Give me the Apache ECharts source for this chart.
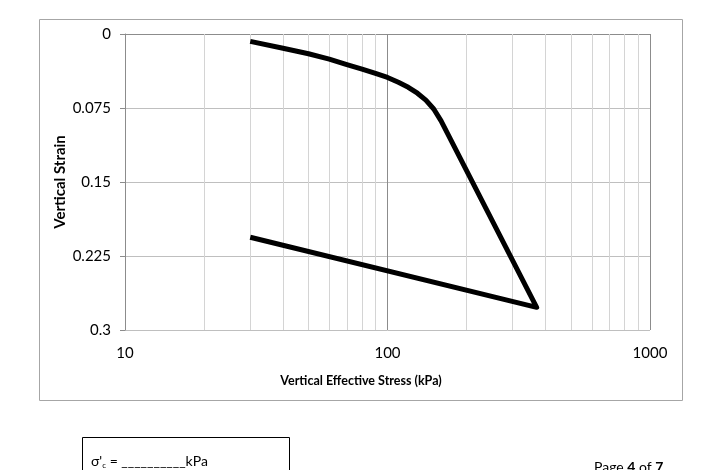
<!DOCTYPE html>
<html>
<head>
<meta charset="utf-8">
<script src="https://cdn.jsdelivr.net/npm/echarts@6/dist/echarts.min.js"></script>
<style>
  html, body { margin: 0; padding: 0; background: #fff; }
  #chart { width: 710px; height: 470px; }
</style>
</head>
<body>
<div id="chart"></div>
<script>
// consolidation curve: vertical effective stress (kPa) vs vertical strain
const stress = [30, 40, 50, 60, 70, 80, 90, 100, 110, 120, 130, 140, 150, 160, 370, 30];
const strain = [0.0075, 0.0145, 0.020, 0.0255, 0.031, 0.0355, 0.040, 0.044, 0.049, 0.054, 0.060, 0.067, 0.076, 0.088, 0.277, 0.206];
const minorTicks = [20, 30, 40, 50, 60, 70, 80, 90, 200, 300, 400, 500, 600, 700, 800, 900];
const yTicks = [0, 0.075, 0.15, 0.225, 0.3];

const chart = echarts.init(document.getElementById('chart'));
const font = 'Lato, "Open Sans", sans-serif';

const option = {
  animation: false,
  backgroundColor: '#fff',
  grid: { left: 125, right: 60, top: 34, bottom: 140 },
  xAxis: {
    type: 'log',
    logBase: 10,
    min: 10,
    max: 1000,
    axisLine: { lineStyle: { color: '#8c8c8c' } },
    axisTick: { show: false },
    axisLabel: { fontFamily: font, fontSize: 15, color: '#000', margin: 16, formatter: v => String(Math.round(v)) },
    splitLine: { show: true, lineStyle: { color: '#8c8c8c', width: 1 } }
  },
  yAxis: {
    type: 'value',
    inverse: true,
    min: 0,
    max: 0.3,
    interval: 0.075,
    axisLine: { show: true, lineStyle: { color: '#8c8c8c' } },
    axisTick: { show: true, length: 5, lineStyle: { color: '#8c8c8c' } },
    axisLabel: {
      fontFamily: font, fontSize: 15, color: '#000', margin: 14,
      formatter: v => String(yTicks.find(t => Math.abs(t - v) < 1e-9) ?? v)
    },
    splitLine: { show: true, lineStyle: { color: '#bfbfbf' } }
  },
  series: [
    {
      type: 'line',
      data: [],
      z: 1,
      markLine: {
        silent: true,
        symbol: 'none',
        label: { show: false },
        lineStyle: { color: '#d4d4d4', type: 'solid', width: 1 },
        data: minorTicks.map(v => ({ xAxis: v }))
      }
    },
    {
      type: 'line',
      zlevel: 1,
      showSymbol: false,
      smooth: false,
      lineStyle: { color: '#000', width: 5, join: 'round', cap: 'butt' },
      data: stress.map((s, i) => [s, strain[i]])
    }
  ],
  graphic: [
    {
      type: 'rect',
      shape: { x: 39.5, y: 19.5, width: 643, height: 381 },
      style: { fill: null, stroke: '#a6a6a6', lineWidth: 1 },
      z: -1
    },
    {
      type: 'text',
      x: 60,
      y: 182,
      rotation: Math.PI / 2,
      style: {
        text: 'Vertical Strain',
        fontFamily: font, fontWeight: 'bold', fontSize: 15, fill: '#000',
        align: 'center', verticalAlign: 'middle'
      }
    },
    {
      type: 'text',
      x: 361,
      y: 381,
      style: {
        text: 'Vertical Effective Stress (kPa)',
        fontFamily: font, fontWeight: 'bold', fontSize: 12.5, fill: '#000',
        align: 'center', verticalAlign: 'middle'
      }
    },
    {
      type: 'rect',
      shape: { x: 82.5, y: 437.5, width: 207, height: 60 },
      style: { fill: null, stroke: '#000', lineWidth: 1 }
    },
    {
      type: 'text',
      x: 91,
      y: 461,
      style: {
        text: "σ'{sub|c} = __________kPa",
        fontFamily: font,
        fontSize: 14,
        fill: '#000',
        verticalAlign: 'middle',
        rich: { sub: { fontSize: 8, padding: [8, 0, 0, 0], fontFamily: font } }
      }
    },
    {
      type: 'text',
      x: 594,
      y: 467,
      style: {
        text: 'Page {b|4} of {b|7}',
        fontFamily: font,
        fontSize: 14,
        fill: '#000',
        verticalAlign: 'middle',
        rich: { b: { fontWeight: 'bold', fontSize: 14, fontFamily: font } }
      }
    }
  ]
};

chart.setOption(option);
</script>
</body>
</html>
